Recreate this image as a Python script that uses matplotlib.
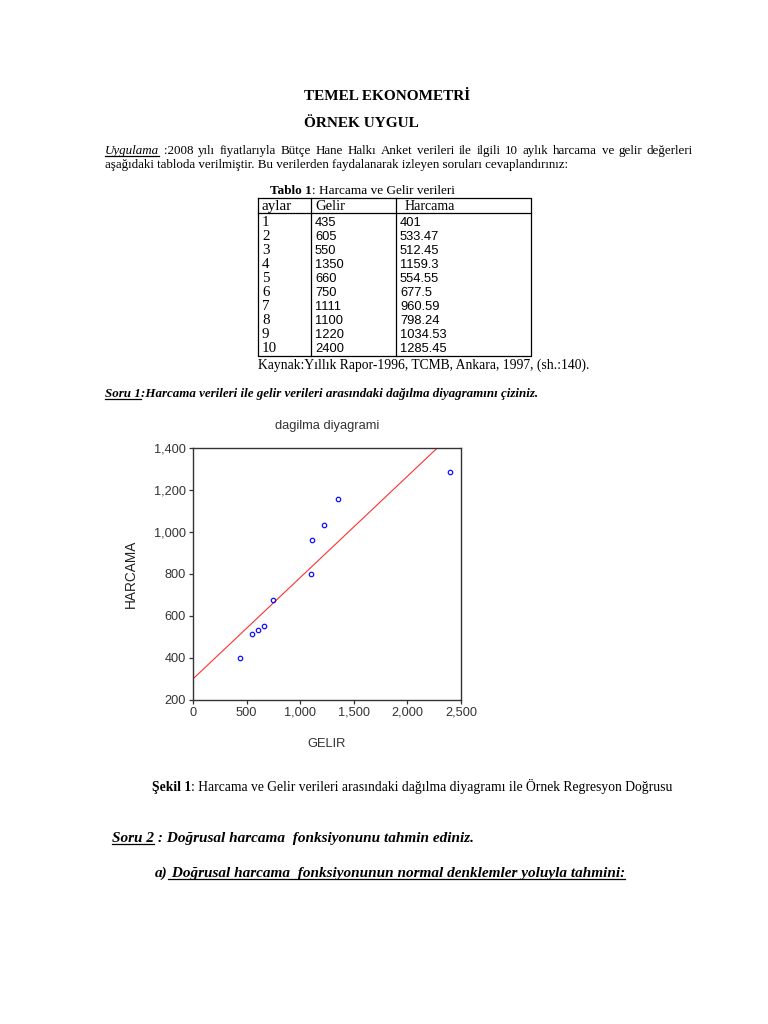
import matplotlib
matplotlib.use("Agg")
import matplotlib.pyplot as plt
import numpy as np

# data from Tablo 1
aylar = [1, 2, 3, 4, 5, 6, 7, 8, 9, 10]
gelir = [435, 605, 550, 1350, 660, 750, 1111, 1100, 1220, 2400]
harcama = [401, 533.47, 512.45, 1159.3, 554.55, 677.5, 960.59, 798.24, 1034.53, 1285.45]

W, H = 768, 1024
SERIF = "Liberation Serif"
SANS = "Liberation Sans"

fig = plt.figure(figsize=(W / 100, H / 100), dpi=100)
fig.patch.set_facecolor("white")

# page overlay axes in pixel coordinates
page = fig.add_axes([0, 0, 1, 1])
page.set_xlim(0, W)
page.set_ylim(H, 0)
page.axis("off")

renderer = fig.canvas.get_renderer()


def width_of(txt, **kw):
    t = page.text(0, 0, txt, **kw)
    bb = t.get_window_extent(renderer)
    t.remove()
    return bb.width


def run(x, y, parts, size, family=SERIF):
    # draws text runs one after another on a baseline
    for txt, weight, style, ul in parts:
        kw = dict(fontsize=size, family=family, fontweight=weight, fontstyle=style)
        page.text(x, y, txt, va="baseline", ha="left", **kw)
        w = width_of(txt, **kw)
        if txt.endswith(" "):
            w += width_of("a a", **kw) - width_of("aa", **kw)
        if ul:
            page.plot([x, x + w], [y + 2, y + 2], color="black", lw=0.9)
        x += w
    return x


# headings
page.text(387, 100, "TEMEL EKONOMETRİ", ha="center", va="baseline",
          family=SERIF, fontweight="bold", fontsize=11)
page.text(361, 127, "ÖRNEK UYGUL", ha="center", va="baseline",
          family=SERIF, fontweight="bold", fontsize=11)

# paragraph, first line justified between 105 and 693
psize = 9.4
words = ["Uygulama"] + ":2008 yılı fiyatlarıyla Bütçe Hane Halkı Anket verileri ile ilgili 10 aylık harcama ve gelir değerleri".split()
styles = ["italic"] + ["normal"] * (len(words) - 1)
ws = [width_of(w, family=SERIF, fontsize=psize, fontstyle=s) for w, s in zip(words, styles)]
gap = (693 - 105 - sum(ws)) / (len(words) - 1)
x = 105
for w, s, wd in zip(words, styles, ws):
    page.text(x, 154, w, va="baseline", family=SERIF, fontsize=psize, fontstyle=s)
    if s == "italic":
        page.plot([x, x + wd], [156, 156], color="black", lw=0.9)
    x += wd + gap
page.text(105, 168, "aşağıdaki tabloda verilmiştir. Bu verilerden faydalanarak izleyen soruları cevaplandırınız:",
          va="baseline", family=SERIF, fontsize=psize)

# table
tsize = 9.5
run(270, 194, [("Tablo 1", "bold", "normal", False),
               (": Harcama ve Gelir verileri", "normal", "normal", False)], tsize)
tl, tr, tt, tb = 258, 531, 198, 356
page.plot([tl, tr, tr, tl, tl], [tt, tt, tb, tb, tt], color="black", lw=0.9)
page.plot([tl, tr], [213, 213], color="black", lw=0.9)
page.plot([311, 311], [tt, tb], color="black", lw=0.9)
page.plot([396, 396], [tt, tb], color="black", lw=0.9)
page.text(261, 210, "aylar", family=SERIF, fontsize=10.8, va="baseline")
page.text(315, 210, "Gelir", family=SERIF, fontsize=10.5, va="baseline")
page.text(405, 210, "Harcama", family=SERIF, fontsize=10, va="baseline")
for i, (a, g, h) in enumerate(zip(aylar, gelir, harcama)):
    yy = 226 + i * 13.95
    page.text(262, yy, str(a), family=SERIF, fontsize=10.8, va="baseline")
    page.text(315, yy, str(g), family=SANS, fontsize=9.3, va="baseline")
    page.text(400, yy, "{:g}".format(h), family=SANS, fontsize=9.3, va="baseline")
page.text(258, 369, "Kaynak:Yıllık Rapor-1996, TCMB, Ankara, 1997, (sh.:140).",
          family=SERIF, fontsize=9.8, va="baseline")

# Soru 1
run(105, 397, [("Soru 1", "bold", "italic", True),
               (":Harcama verileri ile gelir verileri arasındaki dağılma diyagramını çiziniz.", "bold", "italic", False)], 9.4)

# scatter chart
ax = fig.add_axes([193 / W, 1 - 700 / H, (461 - 193) / W, (700 - 448) / H])
ax.plot(gelir, harcama, "o", mfc="none", mec="#1010ff", ms=3.2, mew=0.9, zorder=3)
b1, b0 = np.polyfit(gelir, harcama, 1)
xs = np.array([0, 2500])
ax.plot(xs, b0 + b1 * xs, color="#ff3030", lw=0.8)
ax.set_xlim(0, 2500)
ax.set_ylim(200, 1400)
ax.set_xticks([0, 500, 1000, 1500, 2000, 2500])
ax.set_yticks([200, 400, 600, 800, 1000, 1200, 1400])
ax.xaxis.set_major_formatter(matplotlib.ticker.StrMethodFormatter("{x:,.0f}"))
ax.yaxis.set_major_formatter(matplotlib.ticker.StrMethodFormatter("{x:,.0f}"))
for s in ax.spines.values():
    s.set_color("#333333")
    s.set_linewidth(1.0)
ax.tick_params(direction="out", length=3, width=0.9, color="#333333",
               labelsize=9.2, labelcolor="#333333", pad=2)
for lab in ax.get_xticklabels() + ax.get_yticklabels():
    lab.set_family(SANS)
ax.set_title("dagilma diyagrami", family=SANS, fontsize=9.3, color="#333333", pad=14)
ax.set_xlabel("GELIR", family=SANS, fontsize=9.3, color="#333333", labelpad=14)
ax.set_ylabel("HARCAMA", family=SANS, fontsize=9.8, color="#222222", labelpad=12)

# caption and next questions
run(152, 791, [("Şekil 1", "bold", "normal", False),
               (": Harcama ve Gelir verileri arasındaki dağılma diyagramı ile Örnek Regresyon Doğrusu", "normal", "normal", False)], 9.8)
run(112, 842, [("Soru 2", "bold", "italic", True),
               (" : Doğrusal harcama  fonksiyonunu tahmin ediniz.", "bold", "italic", False)], 11)
run(155, 877, [("a)", "bold", "italic", False),
               (" Doğrusal harcama  fonksiyonunun normal denklemler yoluyla tahmini:", "bold", "italic", True)], 11)

fig.savefig("out.png", dpi=100)
